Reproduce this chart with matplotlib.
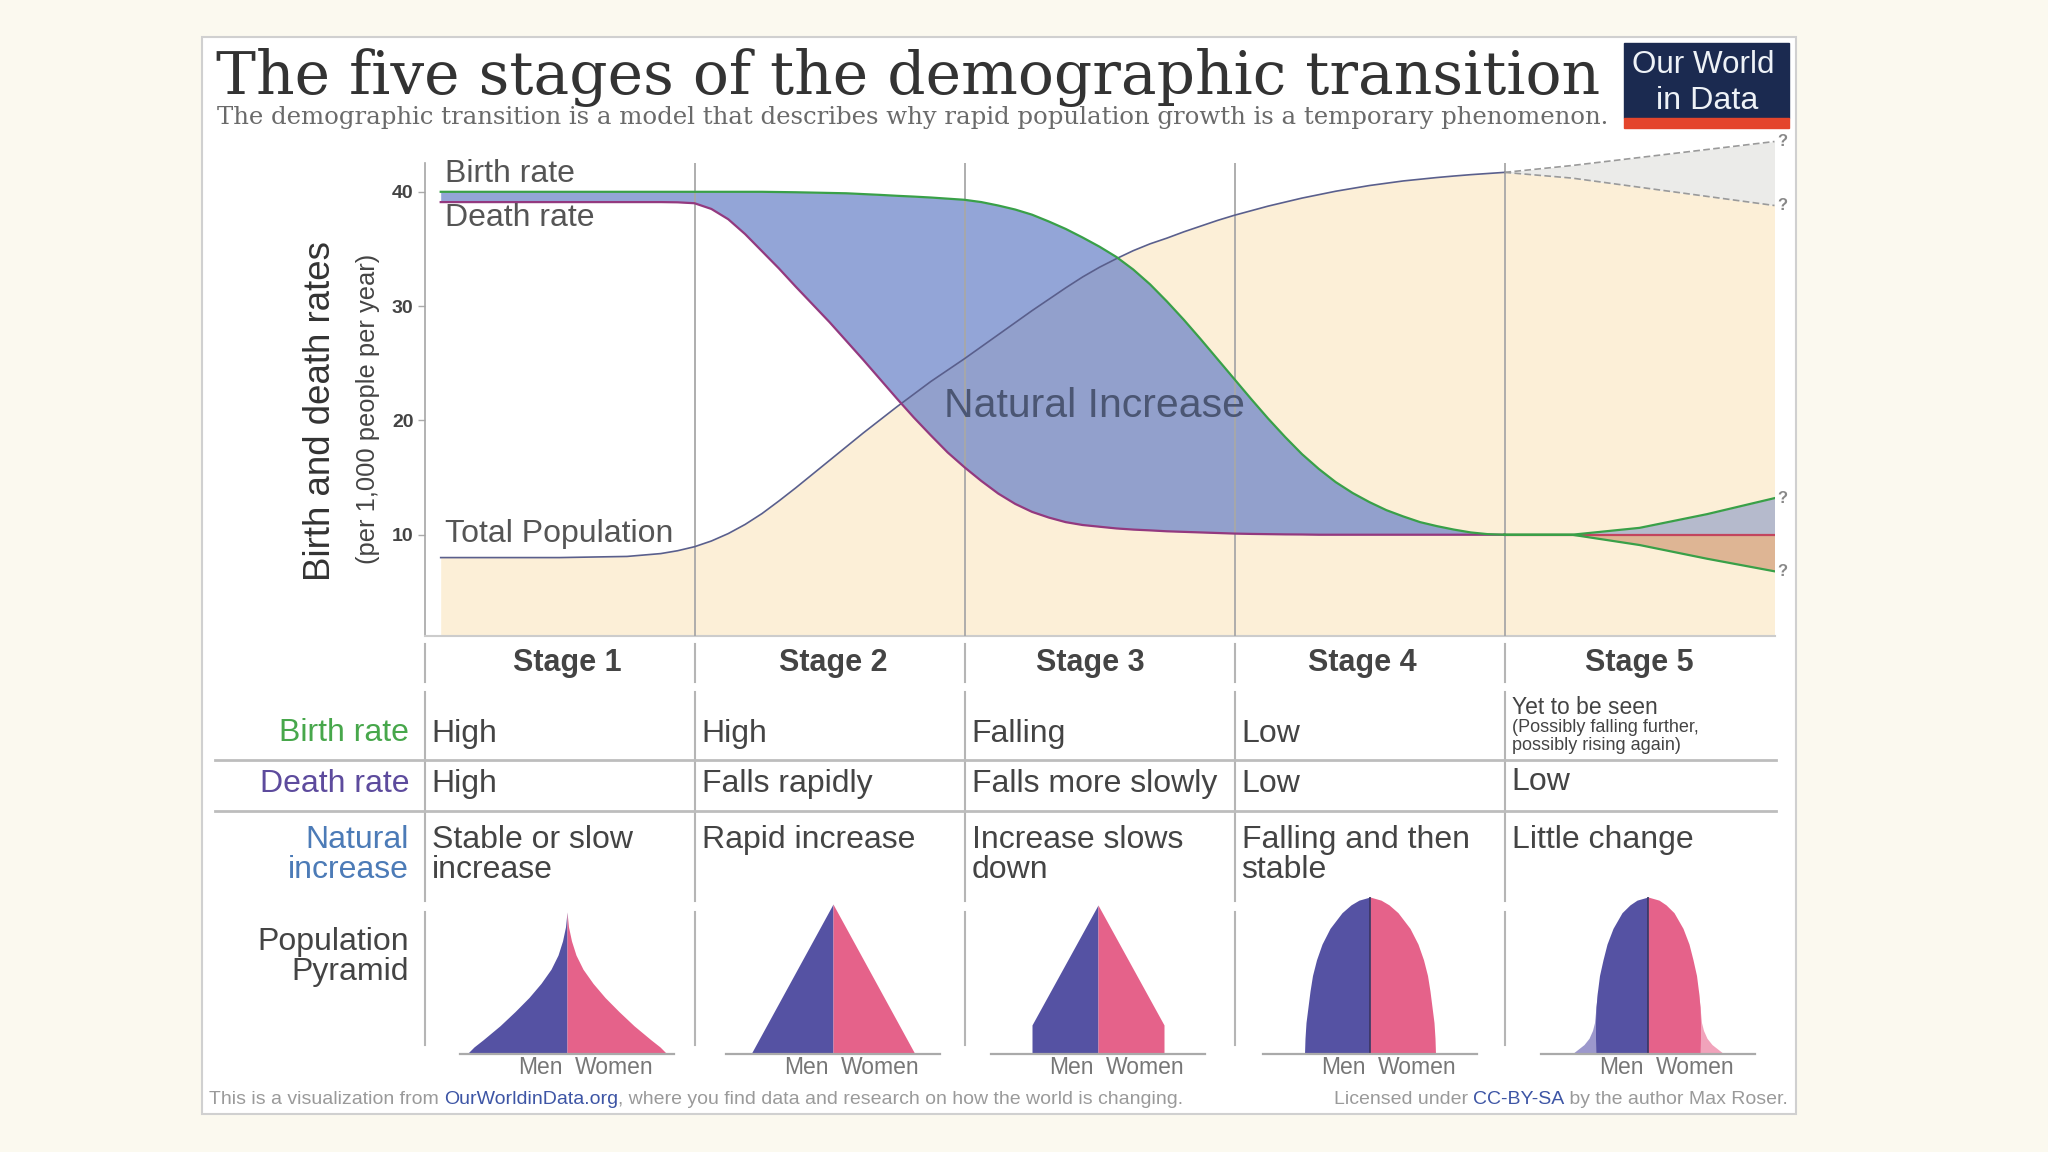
import matplotlib
matplotlib.use("Agg")
import matplotlib.pyplot as plt
from matplotlib.patches import Rectangle

plt.rcParams['font.family'] = ['Liberation Sans', 'DejaVu Sans']

W, H = 2048, 1152

# --- curves (x in stage units: 0 = y axis, each stage is 1 wide) ---
x_main = [0.06, 0.25, 0.5, 0.75, 0.875, 0.9375,
          1.0, 1.0625, 1.125, 1.1875, 1.25, 1.3125, 1.375, 1.4375,
          1.5, 1.5625, 1.625, 1.6875, 1.75, 1.8125, 1.875, 1.9375,
          2.0, 2.0625, 2.125, 2.1875, 2.25, 2.3125, 2.375, 2.4375,
          2.5, 2.5625, 2.625, 2.6875, 2.75, 2.8125, 2.875, 2.9375,
          3.0, 3.0625, 3.125, 3.1875, 3.25, 3.3125, 3.375, 3.4375,
          3.5, 3.5625, 3.625, 3.6875, 3.75, 3.8125, 3.875, 3.9375, 4.0]
birth_rate = [40.0, 40.0, 40.0, 40.0, 40.0, 40.0,
              40.0, 40.0, 40.0, 40.0, 40.0, 39.98, 39.96, 39.93,
              39.9, 39.87, 39.8, 39.73, 39.65, 39.58, 39.5, 39.4,
              39.3, 39.1, 38.8, 38.45, 38.0, 37.4, 36.75, 36.0,
              35.2, 34.3, 33.2, 31.9, 30.4, 28.8, 27.1, 25.35,
              23.6, 21.85, 20.15, 18.55, 17.05, 15.75, 14.6, 13.65,
              12.85, 12.15, 11.6, 11.1, 10.75, 10.45, 10.2, 10.05, 10.0]
death_rate = [39.1, 39.1, 39.1, 39.1, 39.1, 39.08,
              39.0, 38.5, 37.6, 36.3, 34.8, 33.3, 31.7, 30.15,
              28.6, 26.95, 25.3, 23.6, 21.9, 20.25, 18.7, 17.2,
              15.9, 14.7, 13.6, 12.7, 12.0, 11.5, 11.1, 10.85,
              10.7, 10.55, 10.45, 10.38, 10.3, 10.25, 10.2, 10.15,
              10.1, 10.07, 10.05, 10.03, 10.02, 10.0, 10.0, 10.0,
              10.0, 10.0, 10.0, 10.0, 10.0, 10.0, 10.0, 10.0, 10.0]
population = [8.0, 8.0, 8.0, 8.1, 8.35, 8.6,
              8.95, 9.45, 10.1, 10.9, 11.85, 12.95, 14.1, 15.3,
              16.5, 17.7, 18.9, 20.05, 21.2, 22.3, 23.4, 24.4,
              25.4, 26.45, 27.5, 28.55, 29.6, 30.6, 31.6, 32.55,
              33.4, 34.15, 34.85, 35.45, 35.95, 36.5, 37.0, 37.5,
              37.95, 38.35, 38.75, 39.1, 39.45, 39.75, 40.05, 40.3,
              40.55, 40.75, 40.95, 41.1, 41.25, 41.38, 41.5, 41.6, 41.7]

# stage 5: yet to be seen
x_future = [4.0, 4.25, 4.5, 4.75, 5.0]
birth_hi = [10.0, 10.0, 10.6, 11.8, 13.2]
birth_lo = [10.0, 10.0, 9.1, 7.9, 6.8]
death_future = [10.0, 10.0, 10.0, 10.0, 10.0]
pop_hi = [41.7, 42.3, 43.0, 43.7, 44.4]
pop_lo = [41.7, 41.2, 40.4, 39.6, 38.8]

y_ticks = [10, 20, 30, 40]

# --- table ---
stages = ['Stage 1', 'Stage 2', 'Stage 3', 'Stage 4', 'Stage 5']
birth_text = ['High', 'High', 'Falling', 'Low', 'Yet to be seen']
birth_note = ['(Possibly falling further,', 'possibly rising again)']
death_text = ['High', 'Falls rapidly', 'Falls more slowly', 'Low', 'Low']
natural_text = ['Stable or slow\nincrease', 'Rapid increase', 'Increase slows\ndown',
                'Falling and then\nstable', 'Little change']

# --- population pyramids: (height, half width) profiles ---
pyr_h = [
    [0, 0.045, 0.09, 0.18, 0.27, 0.36, 0.45, 0.54, 0.63, 0.72, 0.81, 0.904],
    [0, 0.955],
    [0, 0.185, 0.949],
    [0, 0.1, 0.2, 0.3, 0.4, 0.5, 0.6, 0.7, 0.8, 0.9, 0.95, 0.98, 1.0],
    [0, 0.1, 0.2, 0.3, 0.4, 0.5, 0.6, 0.7, 0.8, 0.9, 0.95, 0.98, 1.0],
]
pyr_w = [
    [1.0, 0.93, 0.84, 0.67, 0.52, 0.38, 0.26, 0.16, 0.09, 0.045, 0.015, 0.0],
    [0.82, 0.0],
    [0.66, 0.66, 0.0],
    [0.655, 0.65, 0.64, 0.62, 0.6, 0.575, 0.535, 0.48, 0.4, 0.28, 0.19, 0.11, 0.0],
    [0.52, 0.525, 0.525, 0.52, 0.505, 0.485, 0.45, 0.41, 0.35, 0.26, 0.18, 0.11, 0.0],
]
flare_h = [0, 0.03, 0.06, 0.1, 0.15, 0.2, 0.3, 0.4]
flare_w = [0.76, 0.70, 0.64, 0.59, 0.555, 0.535, 0.52, 0.505]

cream = '#fcefd7'
men_c, women_c = '#5552a3', '#e5628a'

fig = plt.figure(figsize=(W / 100, H / 100), dpi=100)
fig.patch.set_facecolor('#fbf9ef')
r = fig.canvas.get_renderer()

bg = fig.add_axes([0, 0, 1, 1])
bg.set_xlim(0, W)
bg.set_ylim(H, 0)
bg.axis('off')
bg.add_patch(Rectangle((202, 37), 1594, 1077, fc='white', ec='#d0d0d0', lw=1.5))


def fit(t, target, vertical=False):
    bb = t.get_window_extent(r)
    size = bb.height if vertical else bb.width
    t.set_fontsize(t.get_fontsize() * target / size)


def parts_text(x, y, parts, ha='left', **kw):
    def width(s):
        t = bg.text(0, 0, s + '|', **kw)
        w = t.get_window_extent(r).width
        t.remove()
        return w
    bar = width('')
    full = ''.join(s for s, _ in parts)
    x0 = x - (width(full) - bar) if ha == 'right' else x
    prefix = ''
    for s, c in parts:
        off = width(prefix) - bar if prefix else 0
        bg.text(x0 + off, y, s, color=c, ha='left', va='center', **kw)
        prefix += s


# title block
t = bg.text(216, 94, 'The five stages of the demographic transition', family='DejaVu Serif',
            fontsize=42, color='#333333', va='baseline')
fit(t, 1384)
t = bg.text(217, 124, 'The demographic transition is a model that describes why rapid population '
            'growth is a temporary phenomenon.', family='DejaVu Serif', fontsize=16,
            color='#6a6a6a', va='baseline')
fit(t, 1393)

# logo
bg.add_patch(Rectangle((1624, 43), 165, 75, color='#1b2a50'))
bg.add_patch(Rectangle((1624, 118), 165, 10, color='#e4452c'))
t = bg.text(1703, 73, 'Our World', ha='center', va='baseline', color='#eef2f7', fontsize=22)
fit(t, 142)
t = bg.text(1707, 109, 'in Data', ha='center', va='baseline', color='#eef2f7', fontsize=22)
fit(t, 102)

# y axis titles
t = bg.text(320, 411, 'Birth and death rates', rotation=90, ha='center', va='center',
            fontsize=24, color='#333333')
fit(t, 340, vertical=True)
t = bg.text(368, 409, '(per 1,000 people per year)', rotation=90, ha='center', va='center',
            fontsize=16, color='#444444')
fit(t, 309, vertical=True)

# main chart
ax = fig.add_axes([424.5 / W, 1 - 636 / H, 1350 / W, 473 / H])
ax.set_facecolor('none')
ax.set_xlim(0, 5)
ax.set_ylim(1.14, 42.52)

ax.fill_between(x_main, 0, population, color=cream, lw=0, zorder=1)
ax.fill_between(x_future, 0, pop_lo, color=cream, lw=0, zorder=1)
ax.fill_between(x_future, pop_lo, pop_hi, color='#ebebe9', lw=0, zorder=1, clip_on=False)
ax.fill_between(x_main, death_rate, birth_rate, color='#6a82c8', alpha=0.72, lw=0, zorder=2)
ax.fill_between(x_future, death_future, birth_hi, color='#7b8fc4', alpha=0.55, lw=0, zorder=2)
ax.fill_between(x_future, birth_lo, death_future, color='#d29d78', alpha=0.7, lw=0, zorder=2)

for b in [1, 2, 3, 4]:
    ax.axvline(b, color='#a8a8a8', lw=1.3, zorder=3)

ax.plot(x_main, population, color='#5a5f8c', lw=1.2, zorder=4)
ax.plot(x_future, pop_hi, color='#9a9a9a', lw=1.2, ls=(0, (4, 2)), zorder=4, clip_on=False)
ax.plot(x_future, pop_lo, color='#9a9a9a', lw=1.2, ls=(0, (4, 2)), zorder=4)
ax.plot(x_main, death_rate, color='#93397f', lw=1.6, zorder=5)
ax.plot(x_future, death_future, color='#c2455e', lw=1.6, zorder=5)
ax.plot(x_main, birth_rate, color='#39a048', lw=1.6, zorder=6)
ax.plot(x_future, birth_hi, color='#39a048', lw=1.6, zorder=6)
ax.plot(x_future, birth_lo, color='#39a048', lw=1.6, zorder=6)

for v in [pop_hi[-1], pop_lo[-1], birth_hi[-1], birth_lo[-1]]:
    ax.text(5.012, v, '?', fontsize=12, fontweight='bold', color='#888888', va='center',
            clip_on=False)

ax.text(0.076, 41.6, 'Birth rate', fontsize=23, color='#555555', va='center', zorder=7)
ax.text(0.076, 37.7, 'Death rate', fontsize=23, color='#555555', va='center', zorder=7)
ax.text(0.076, 10.1, 'Total Population', fontsize=23, color='#555555', va='center', zorder=7)
ax.text(2.48, 21.3, 'Natural Increase', fontsize=29.5, color='#4b5673', ha='center',
        va='center', zorder=7)

ax.set_yticks(y_ticks)
ax.set_xticks([])
ax.tick_params(axis='y', length=5, width=1, color='#aaaaaa', pad=3, labelsize=14,
               labelcolor='#444444')
for lab in ax.get_yticklabels():
    lab.set_fontweight('bold')
for s in ['top', 'right']:
    ax.spines[s].set_visible(False)
ax.spines['left'].set_color('#a5a5a5')
ax.spines['left'].set_linewidth(1.2)
ax.spines['bottom'].set_color('#cccccc')
ax.spines['bottom'].set_linewidth(1.5)

# table grid
col_edges = [424.5, 694.5, 964.5, 1234.5, 1504.5]
for xe in col_edges:
    for y0, y1 in [(644, 682), (692, 901), (912, 1045)]:
        bg.plot([xe, xe], [y0, y1], color='#b5b5b5', lw=1.5)
for yl in [760, 811]:
    bg.plot([215, 1776], [yl, yl], color='#bdbdbd', lw=2)

head_x = [567, 833, 1090, 1362, 1639]
for hx, s in zip(head_x, stages):
    bg.text(hx, 663, s, ha='center', va='center', fontsize=22, fontweight='bold', color='#444444')

fs = 23
bg.text(409, 733, 'Birth rate', ha='right', va='center', fontsize=fs, color='#47a74b')
bg.text(409, 784, 'Death rate', ha='right', va='center', fontsize=fs, color='#5d4b9d')
bg.text(409, 840, 'Natural', ha='right', va='center', fontsize=fs, color='#4c7bb7')
bg.text(409, 870, 'increase', ha='right', va='center', fontsize=fs, color='#4c7bb7')
bg.text(409, 942, 'Population', ha='right', va='center', fontsize=fs, color='#444444')
bg.text(409, 972, 'Pyramid', ha='right', va='center', fontsize=fs, color='#444444')

for i, xe in enumerate(col_edges):
    cx = xe + 7
    if i == 4:
        bg.text(cx, 707, birth_text[i], va='center', fontsize=16.5, color='#444444')
        bg.text(cx, 727, birth_note[0], va='center', fontsize=13, color='#444444')
        bg.text(cx, 746, birth_note[1], va='center', fontsize=13, color='#444444')
        bg.text(cx, 782, death_text[i], va='center', fontsize=fs, color='#444444')
    else:
        bg.text(cx, 734, birth_text[i], va='center', fontsize=fs, color='#444444')
        bg.text(cx, 784, death_text[i], va='center', fontsize=fs, color='#444444')
    for k, line in enumerate(natural_text[i].split('\n')):
        bg.text(cx, 840 + 30 * k, line, va='center', fontsize=fs, color='#444444')

# pyramids
pyr_x = [567, 833, 1098, 1370, 1648]
for i, cx in enumerate(pyr_x):
    pa = fig.add_axes([(cx - 107) / W, 1 - 1054 / H, 214 / W, 157 / H])
    pa.set_xlim(-1.07, 1.07)
    pa.set_ylim(0, 1.0)
    pa.axis('off')
    h, w = pyr_h[i], pyr_w[i]
    if i == 4:
        pa.fill_betweenx(flare_h, [-v for v in flare_w], 0, color='#9c98cc', lw=0)
        pa.fill_betweenx(flare_h, 0, flare_w, color='#f1a3bb', lw=0)
    pa.fill_betweenx(h, [-v for v in w], 0, color=men_c, lw=0)
    pa.fill_betweenx(h, 0, w, color=women_c, lw=0)
    if i >= 3:
        pa.plot([0, 0], [0, h[-1]], color='#3a3560', lw=1.2)
    pa.plot([-1.07, 1.07], [0, 0], color='#aaaaaa', lw=1.6, clip_on=False)
    bg.text(cx - 4, 1068, 'Men', ha='right', va='center', fontsize=16.5, color='#777777')
    bg.text(cx + 8, 1068, 'Women', ha='left', va='center', fontsize=16.5, color='#777777')

# footer
foot = dict(fontsize=14, family=['Liberation Sans', 'DejaVu Sans'])
parts_text(209, 1100, [('This is a visualization from ', '#9a9a9a'),
                       ('OurWorldinData.org', '#3d55a5'),
                       (', where you find data and research on how the world is changing.',
                        '#9a9a9a')], **foot)
parts_text(1787, 1100, [('Licensed under ', '#9a9a9a'), ('CC-BY-SA', '#3d55a5'),
                        (' by the author Max Roser.', '#9a9a9a')], ha='right', **foot)

fig.savefig('out.png', dpi=100, facecolor=fig.get_facecolor())
